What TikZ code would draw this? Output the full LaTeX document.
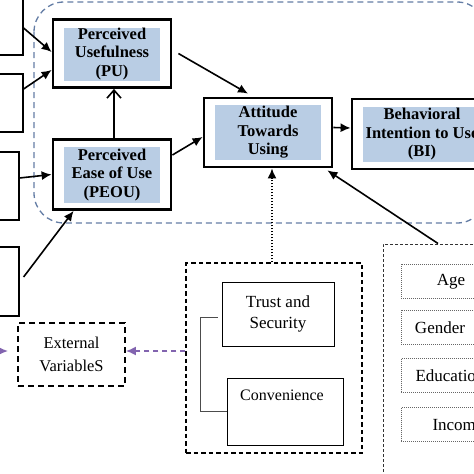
\documentclass[tikz,border=0pt]{standalone}
\usepackage{fontspec}
\setmainfont{Liberation Serif}
\usetikzlibrary{arrows.meta}

\definecolor{boxblue}{RGB}{185,205,228}
\definecolor{dashblue}{RGB}{100,125,165}
\definecolor{extpurple}{RGB}{130,100,175}

\begin{document}
\begin{tikzpicture}[x=1pt,y=-1pt,
	thickbox/.style={draw,line width=2.8pt,fill=white},
	innerlbl/.style={fill=boxblue,inner sep=0pt,align=center,font=\fontsize{16.5}{18.5}\selectfont\bfseries},
	plainbox/.style={draw,line width=1.2pt},
	arr/.style={-{Latex[length=10pt,width=9pt]},line width=1.6pt},
	lbl/.style={font=\fontsize{17}{21.5}\selectfont,align=center}
	]
	\useasboundingbox (0,0) rectangle (474,474);
	\clip (0,0) rectangle (474,474);
	
	%core of the model
	\draw[dashblue,line width=1.3pt,dash pattern=on 6pt off 4pt,rounded corners=30pt] (34,2) rectangle (487,223);
	
	%left boxes
	\node[plainbox,minimum width=40pt,minimum height=75pt] (l1) at (3,17.5) {};
	\node[plainbox,minimum width=40pt,minimum height=58pt] (l2) at (3,103) {};
	\node[plainbox,minimum width=40pt,minimum height=68pt] (l3) at (-1,186) {};
	\node[plainbox,minimum width=40pt,minimum height=69pt] (l4) at (-1,281.5) {};
	
	%TAM constructs
	\node[thickbox,minimum width=118pt,minimum height=68pt] (pu) at (112,53.5) {};
	\node[innerlbl,minimum width=96pt,minimum height=53pt] (pu-in) at (112,54) {Perceived\\Usefulness\\(PU)};
	\node[thickbox,minimum width=118pt,minimum height=70pt] (peou) at (112,174.5) {};
	\node[innerlbl,minimum width=96pt,minimum height=56pt] (peou-in) at (112,175) {Perceived\\Ease of Use\\(PEOU)};
	\node[thickbox,minimum width=128pt,minimum height=69pt] (atu) at (268,132.5) {};
	\node[innerlbl,minimum width=106pt,minimum height=55pt] (atu-in) at (268,132.5) {Attitude\\Towards\\Using};
	\node[thickbox,minimum width=140pt,minimum height=70pt] (bi) at (422,134) {};
	\node[innerlbl,minimum width=118pt,minimum height=55pt] (bi-in) at (422,134.5) {Behavioral\\Intention to Use\\(BI)};
	
	\draw[arr] ([yshift=-10.5pt]l1.east) -- ([yshift=1.5pt]pu.west);
	\draw[arr] ([yshift=14pt]l2.east) -- ([yshift=-16.5pt]pu.west);
	\draw[arr] ([yshift=8pt]l3.east) -- (peou.west);
	\draw[arr] ([xshift=4pt,yshift=4.5pt]l4.east) -- ([xshift=22pt]peou.south west);
	\draw[-{Straight Barb[length=8pt,width=14pt]},line width=1.6pt] ([xshift=2pt]peou.north) -- ([xshift=2pt]pu.south);
	\draw[arr] ([yshift=19.5pt]peou.east) -- ([yshift=-4.5pt]atu.west);
	\draw[arr] ([xshift=6pt]pu.east) -- ([xshift=-20pt,yshift=3pt]atu.north);
	\draw[arr] ([yshift=5pt]atu.east) -- ([yshift=6pt]bi.west);
	
	%trust and convenience
	\node[draw,line width=1.3pt,dash pattern=on 4.5pt off 3pt,minimum width=176pt,minimum height=190pt] (trust) at (274,358) {};
	\node[draw,line width=0.9pt,minimum width=112pt,minimum height=64pt,lbl] (ts) at (278,314) {Trust and\\Security};
	\node[draw,line width=0.9pt,minimum width=116pt,minimum height=67pt] (conv) at (285,411.5) {};
	\node[lbl,font=\fontsize{16}{19}\selectfont] (conv-t) at (282,395) {Convenience};
	\draw[black!70,line width=0.9pt] ([xshift=-4pt,yshift=-3pt]ts.west) -- ++(-17,0) |- (conv.west);
	\draw[arr,dash pattern=on 1.5pt off 1.5pt] ([xshift=-2pt]trust.north) -- ([xshift=4pt]atu.south);
	
	%demographics
	\node[draw,black!80,line width=1pt,dash pattern=on 3pt off 2pt,minimum width=110pt,minimum height=260pt] (demo) at (438,374) {};
	\foreach \nm/\yy in {age/281,gen/327,edu/375.5,inc/424.5}
		\node[draw,black!60,line width=0.8pt,dash pattern=on 1pt off 1pt,minimum width=102pt,minimum height=34pt] (\nm) at (452,\yy) {};
	\node[lbl] (age-t) at (451,282) {Age};
	\node[lbl] (gen-t) at (440,328) {Gender};
	\node[lbl] (edu-t) at (450,376) {Education};
	\node[lbl] (inc-t) at (458,425) {Income};
	\draw[arr] (demo.north) -- ([xshift=-6pt,yshift=-2pt]atu.south east);
	
	%external variables
	\node[draw,line width=1.8pt,dash pattern=on 6pt off 4pt,minimum width=107pt,minimum height=63pt,align=center,font=\fontsize{16.5}{23}\selectfont] (ext) at (71.5,354.5) {External\\VariableS};
	\coordinate (purpy) at ([yshift=3.5pt]ext.east);
	\draw[extpurple,arr,dash pattern=on 5pt off 4pt] (purpy -| trust.west) -- (purpy);
	\coordinate (extleft) at (-30,351);
	\coordinate (lefttip) at (8,351);
	\draw[extpurple,arr,dash pattern=on 5pt off 4pt] (extleft) -- (lefttip);
\end{tikzpicture}
\end{document}
